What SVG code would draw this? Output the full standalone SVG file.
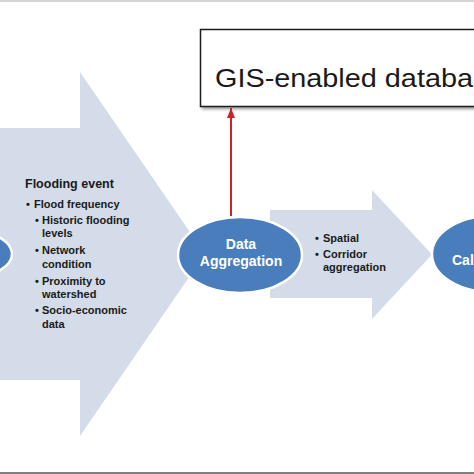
<svg xmlns="http://www.w3.org/2000/svg" width="474" height="474" viewBox="0 0 474 474">
<style>
.arrow{fill:#d3dce8}
.ell{fill:#4a7dbb;stroke:#ffffff;stroke-width:2.5}
.et{font-family:"Liberation Sans",Arial,sans-serif;font-weight:bold;font-size:14px;fill:#ffffff}
.bt{font-family:"Liberation Sans",Arial,sans-serif;font-weight:bold;font-size:11px;fill:#1a1a1a}
.hd{font-family:"Liberation Sans",Arial,sans-serif;font-weight:bold;font-size:12.5px;fill:#1a1a1a}
</style>
<defs>
<marker id="redhead" markerWidth="10" markerHeight="8" refX="10" refY="4" orient="auto" markerUnits="userSpaceOnUse" viewBox="0 0 10 8">
<path d="M0,0 L10,4 L0,8 Z" fill="#c8242c"/>
</marker>
<filter id="sh" x="-5%" y="-10%" width="115%" height="130%">
<feGaussianBlur in="SourceAlpha" stdDeviation="1.5"/>
<feOffset dx="1.5" dy="2" result="b"/>
<feComponentTransfer><feFuncA type="linear" slope="0.4"/></feComponentTransfer>
<feMerge><feMergeNode/><feMergeNode in="SourceGraphic"/></feMerge>
</filter>
</defs>
<rect x="0" y="0" width="474" height="474" fill="#ffffff"/>
<rect x="0" y="0" width="474" height="2" fill="#d4d4d4"/>
<rect x="0" y="472" width="474" height="2" fill="#808080"/>

<g id="arrow-flooding">
<path class="arrow" d="M0,128 L80,128 L80,72 L205,254 L80,436 L80,380 L0,380 Z"/>
<text class="hd" x="25" y="188">Flooding event</text>
<text class="bt"><tspan x="26" y="208">•</tspan><tspan x="34" y="208">Flood frequency</tspan>
<tspan x="35" y="224">•</tspan><tspan x="42" y="224">Historic flooding</tspan>
<tspan x="42" y="237">levels</tspan>
<tspan x="35" y="254">•</tspan><tspan x="42" y="254">Network</tspan>
<tspan x="42" y="268">condition</tspan>
<tspan x="35" y="285">•</tspan><tspan x="42" y="285">Proximity to</tspan>
<tspan x="42" y="298">watershed</tspan>
<tspan x="35" y="314">•</tspan><tspan x="42" y="314">Socio-economic</tspan>
<tspan x="42" y="328">data</tspan></text>
</g>

<g id="arrow-spatial">
<path class="arrow" d="M270,210 L372,210 L372,190 L432,254.5 L372,319 L372,298 L270,298 Z"/>
<text class="bt"><tspan x="315" y="242">•</tspan><tspan x="323" y="242">Spatial</tspan>
<tspan x="315" y="258">•</tspan><tspan x="323" y="258">Corridor</tspan>
<tspan x="323" y="271">aggregation</tspan></text>
</g>

<g id="node-left">
<ellipse class="ell" cx="-48" cy="254" rx="60" ry="27"/>
</g>

<g id="node-data-aggregation">
<ellipse class="ell" cx="240" cy="255" rx="62" ry="38"/>
<text class="et" x="241" y="249" text-anchor="middle">Data</text>
<text class="et" x="241" y="266" text-anchor="middle">Aggregation</text>
</g>

<g id="node-cal">
<ellipse class="ell" cx="491" cy="254" rx="59" ry="38"/>
<text class="et" x="452" y="265">Cal</text>
</g>

<g id="node-gis">
<rect x="200.5" y="29.5" width="290" height="77" fill="#ffffff" stroke="#1a1a1a" stroke-width="1.5" filter="url(#sh)"/>
<text x="215" y="87" font-family="'Liberation Sans',Arial,sans-serif" font-size="25px" fill="#1a1a1a" textLength="258" lengthAdjust="spacingAndGlyphs">GIS-enabled databa</text>
</g>

<g id="connectors">
<line x1="231" y1="216" x2="231" y2="108" stroke="#c8242c" stroke-width="2" marker-end="url(#redhead)"/>
</g>
</svg>
